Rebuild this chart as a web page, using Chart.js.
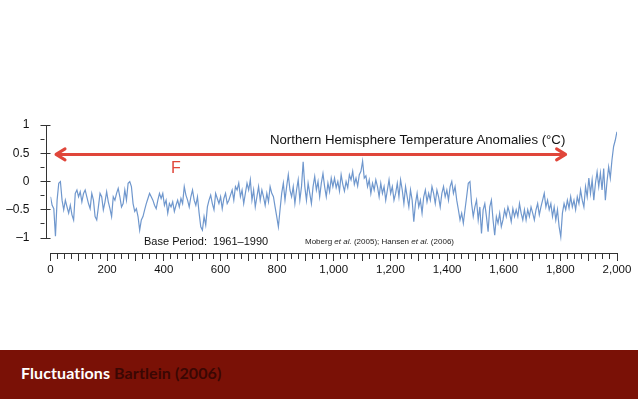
<!DOCTYPE html>
<html>
<head>
<meta charset="utf-8">
<script src="https://cdn.jsdelivr.net/npm/chart.js@4.4.1/dist/chart.umd.min.js"></script>
<style>
  html, body { margin: 0; padding: 0; background: #fff; }
  body { width: 638px; height: 399px; position: relative; overflow: hidden; font-family: "Liberation Sans", Arial, sans-serif; }
  #chart { position: absolute; left: 0; top: 0; }
  .note { position: absolute; white-space: nowrap; line-height: 1; color: #111; }
  #title { left: 270px; top: 133px; font-size: 13.2px; }
  #base { left: 144px; top: 236px; font-size: 11px; }
  #src { left: 305px; top: 238px; font-size: 8px; color: #222; }
  #f { left: 171px; top: 160px; font-size: 16px; color: #e0463a; }
  #footer { position: absolute; left: 0; top: 350px; width: 638px; height: 49px; background: #7a1106; }
  .foot { position: absolute; left: 21px; top: 365px; font-family: Lato, "Open Sans", sans-serif; font-weight: 700; font-size: 16px; letter-spacing: 0.1px; line-height: 1; white-space: nowrap; }
  .foot .a { color: #fff; }
  .foot .b { color: #3a0703; }
</style>
</head>
<body>
<canvas id="chart" width="638" height="399"></canvas>
<div class="note" id="title">Northern Hemisphere Temperature Anomalies (°C)</div>
<div class="note" id="base">Base Period:&nbsp; 1961–1990</div>
<div class="note" id="src">Moberg <i>et al.</i> (2005); Hansen <i>et al.</i> (2006)</div>
<div class="note" id="f">F</div>
<div id="footer"></div>
<div class="foot"><span class="a">Fluctuations</span> <span class="b">Bartlein (2006)</span></div>
<script>
// years run from firstYear in steps of yearStep (one value per step)
const firstYear = 0
const yearStep = 5.83

const anomaly = [
  // 0 - 320
  -0.27,-0.42,-0.48,-0.97,-0.33,-0.03,0.0,-0.33,-0.50,-0.33,
  -0.45,-0.56,-0.42,-0.59,-0.68,-0.21,-0.15,-0.27,-0.18,-0.36,
  -0.21,-0.15,-0.27,-0.39,-0.48,-0.21,-0.33,-0.62,-0.68,-0.45,
  -0.21,-0.27,-0.50,-0.36,-0.18,-0.36,-0.48,-0.62,-0.27,-0.33,
  -0.21,-0.12,-0.27,-0.45,-0.39,-0.15,-0.33,-0.03,0.0,-0.09,
  -0.39,-0.53,-0.48,-0.62,-0.86,-0.68,
  // 325 - 660
  -0.62,-0.50,-0.39,-0.30,-0.21,-0.27,-0.33,-0.42,-0.48,-0.33,
  -0.21,-0.30,-0.21,-0.42,-0.33,-0.56,-0.39,-0.45,-0.36,-0.53,
  -0.42,-0.33,-0.45,-0.30,-0.39,-0.09,-0.24,-0.33,-0.45,-0.27,
  -0.15,-0.33,-0.42,-0.27,-0.56,-0.80,-0.86,-0.62,-0.77,-0.45,
  -0.33,-0.24,-0.39,-0.50,-0.21,-0.30,-0.39,-0.27,-0.48,-0.30,
  -0.21,-0.39,-0.33,-0.24,-0.15,-0.33,-0.09,-0.15,
  // 665 - 1000
  -0.03,-0.27,-0.15,-0.39,-0.21,-0.03,-0.15,0.03,-0.33,-0.15,
  -0.45,-0.27,-0.09,-0.33,-0.15,-0.27,-0.42,-0.21,-0.36,-0.09,
  -0.21,-0.27,-0.45,-0.62,-0.80,-0.50,-0.21,-0.03,-0.33,-0.09,
  0.12,-0.15,-0.27,-0.09,-0.39,-0.15,0.03,-0.33,-0.09,0.35,
  -0.09,-0.33,-0.03,-0.21,-0.39,-0.09,0.09,-0.15,0.0,-0.27,
  -0.03,0.14,-0.09,-0.27,-0.03,-0.18,0.06,-0.09,
  // 1005 - 1340
  0.06,-0.11,0.0,-0.17,0.12,-0.05,-0.17,0.0,-0.11,0.12,
  0.03,0.18,-0.05,0.06,-0.08,0.12,0.18,0.36,0.06,0.10,
  -0.09,0.03,-0.21,-0.03,-0.15,0.03,-0.09,-0.27,-0.03,-0.21,
  -0.09,-0.33,-0.15,0.03,-0.21,-0.09,-0.33,-0.21,-0.03,-0.27,
  0.03,-0.15,-0.39,-0.09,-0.27,-0.45,-0.15,-0.33,-0.71,-0.39,
  -0.21,-0.45,-0.33,-0.56,-0.27,-0.15,-0.36,-0.21,
  // 1345 - 1680
  -0.33,-0.09,-0.21,-0.39,-0.15,-0.27,-0.45,-0.21,-0.09,-0.27,
  -0.15,-0.33,-0.09,0.0,-0.21,-0.09,-0.33,-0.50,-0.68,-0.56,
  -0.74,-0.50,-0.27,-0.03,0.0,-0.39,-0.62,-0.45,-0.33,-0.68,
  -0.45,-0.92,-0.50,-0.39,-0.62,-0.89,-0.45,-0.33,-0.68,-0.95,
  -0.62,-0.74,-0.56,-0.80,-0.68,-0.50,-0.62,-0.45,-0.56,-0.71,
  -0.48,-0.62,-0.50,-0.62,-0.39,-0.56,-0.68,-0.50,
  // 1685 - 2000
  -0.68,-0.50,-0.62,-0.45,-0.56,-0.68,-0.50,-0.39,-0.59,-0.45,
  -0.33,-0.21,-0.45,-0.33,-0.50,-0.39,-0.62,-0.45,-0.68,-0.50,
  -0.80,-0.98,-0.56,-0.39,-0.50,-0.33,-0.47,-0.27,-0.45,-0.33,
  -0.50,-0.27,-0.39,-0.15,-0.33,-0.45,-0.09,-0.27,0.06,-0.21,
  0.03,-0.33,-0.03,0.17,-0.09,0.15,-0.15,0.23,-0.33,0.0,
  0.26,0.06,0.38,0.62,0.73,0.88
]

const yTicks = [-1, -0.75, -0.5, -0.25, 0, 0.25, 0.5, 0.75, 1]
const xMin = 0
const xMax = 2000
const xMinorStep = 25
const xLabelStep = 200

// red arrow "F" spans these years at this anomaly level
const arrowFrom = 16
const arrowTo = 1822
const arrowLevel = 0.48

const points = anomaly.map((v, i) => ({ x: firstYear + i * yearStep, y: v }))

const fmtY = (v) => {
  if (v === 0) return '0'
  return (v < 0 ? '\u2013' : '') + Math.abs(v)
}

const decor = {
  id: 'decor',
  afterDraw(chart) {
    const ctx = chart.ctx
    const xs = chart.scales.x
    const ys = chart.scales.y
    const area = chart.chartArea
    // y axis spine, only over the labelled range
    ctx.save()
    ctx.strokeStyle = '#333'
    ctx.lineWidth = 1
    ctx.beginPath()
    const ax = Math.round(area.left - 5) + 0.5
    ctx.moveTo(ax, ys.getPixelForValue(1))
    ctx.lineTo(ax, ys.getPixelForValue(-1))
    ctx.stroke()

    // red double arrow
    const x1 = xs.getPixelForValue(arrowFrom)
    const x2 = xs.getPixelForValue(arrowTo)
    const ay = ys.getPixelForValue(arrowLevel)
    ctx.strokeStyle = '#e0463a'
    ctx.lineWidth = 3
    ctx.lineCap = 'round'
    ctx.lineJoin = 'round'
    ctx.beginPath()
    ctx.moveTo(x1 + 1, ay)
    ctx.lineTo(x2 - 1, ay)
    ctx.moveTo(x1 + 10, ay - 5.5)
    ctx.lineTo(x1 + 1, ay)
    ctx.lineTo(x1 + 10, ay + 5.5)
    ctx.moveTo(x2 - 10, ay - 5.5)
    ctx.lineTo(x2 - 1, ay)
    ctx.lineTo(x2 - 10, ay + 5.5)
    ctx.stroke()
    ctx.restore()
  }
}

new Chart(document.getElementById('chart'), {
  type: 'line',
  data: {
    datasets: [{
      data: points,
      borderColor: '#6f97cd',
      borderWidth: 1.2,
      pointRadius: 0,
      tension: 0
    }]
  },
  options: {
    responsive: false,
    animation: false,
    layout: { padding: { left: 5.5, top: 125, right: 21, bottom: 116 } },
    plugins: { legend: { display: false }, tooltip: { enabled: false } },
    scales: {
      x: {
        type: 'linear',
        min: xMin,
        max: xMax,
        afterFit: (s) => { s.height = 30 },
        afterBuildTicks: (s) => {
          const t = []
          for (let v = xMin; v <= xMax; v += xMinorStep) t.push({ value: v })
          s.ticks = t
        },
        border: { display: true, color: '#333', width: 1 },
        grid: {
          drawOnChartArea: false,
          tickLength: 8,
          tickColor: '#333',
          tickBorderDash: (c) => (c.tick && c.tick.value % 100 === 0) ? [] : [5, 20]
        },
        ticks: {
          autoSkip: false,
          maxRotation: 0,
          padding: 2,
          color: '#111',
          font: { family: 'Liberation Sans', size: 11.5 },
          callback: (v) => v % xLabelStep === 0 ? v.toLocaleString('en-US') : ''
        }
      },
      y: {
        min: -1.265,
        max: 1,
        afterFit: (s) => { s.width = 45 },
        afterBuildTicks: (s) => { s.ticks = yTicks.map(v => ({ value: v })) },
        border: { display: false },
        grid: {
          drawOnChartArea: false,
          tickLength: 15,
          tickColor: '#333',
          tickBorderDash: (c) => (c.tick && Math.abs(c.tick.value % 0.5) < 1e-9) ? [0, 5, 10, 40] : [0, 5, 4, 40]
        },
        ticks: {
          autoSkip: false,
          padding: 6,
          color: '#111',
          font: { family: 'Liberation Sans', size: 12 },
          callback: (v) => Math.abs(v % 0.5) < 1e-9 ? fmtY(v) : ''
        }
      }
    }
  },
  plugins: [decor]
})
</script>
</body>
</html>
